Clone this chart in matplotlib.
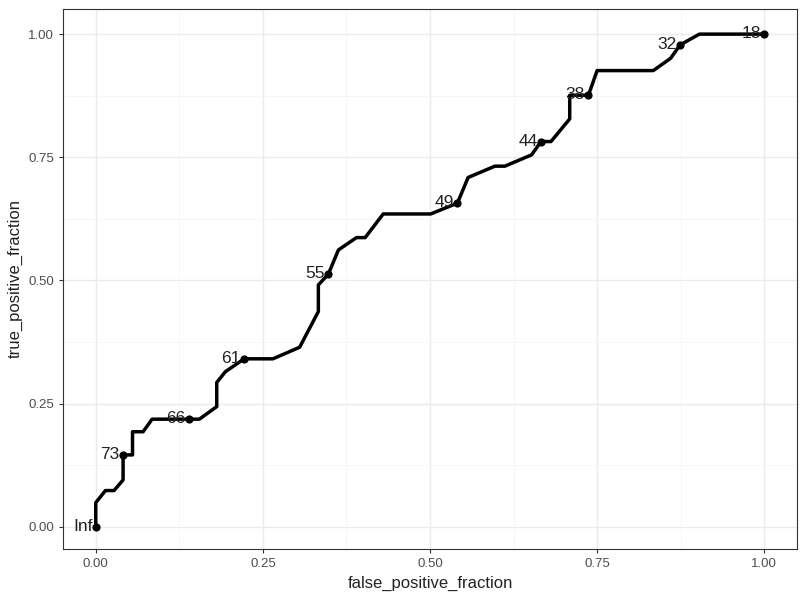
import matplotlib
matplotlib.use("Agg")
import matplotlib.pyplot as plt
plt.rcParams['font.family'] = ['Liberation Sans', 'DejaVu Sans']

fpf = [0, 0, 0.0145, 0.0274, 0.0409, 0.0409, 0.055, 0.055, 0.0708, 0.0843, 0.139, 0.155,
       0.181, 0.181, 0.194, 0.222, 0.265, 0.305, 0.333, 0.333, 0.348, 0.363, 0.390, 0.403,
       0.430, 0.501, 0.541, 0.557, 0.597, 0.612, 0.652, 0.666, 0.681, 0.709, 0.709, 0.737,
       0.750, 0.834, 0.860, 0.874, 0.903, 1.0]
tpf = [0, 0.049, 0.0736, 0.0736, 0.0953, 0.146, 0.146, 0.193, 0.193, 0.2185, 0.2185, 0.2185,
       0.244, 0.293, 0.315, 0.341, 0.341, 0.3645, 0.437, 0.491, 0.513, 0.562, 0.587, 0.587,
       0.635, 0.635, 0.657, 0.709, 0.732, 0.732, 0.755, 0.782, 0.782, 0.828, 0.876, 0.876,
       0.926, 0.926, 0.951, 0.978, 1.0, 1.0]
cut_fpf = [0, 0.0409, 0.139, 0.222, 0.348, 0.541, 0.666, 0.737, 0.874, 1.0]
cut_tpf = [0, 0.146, 0.2185, 0.341, 0.513, 0.657, 0.782, 0.876, 0.978, 1.0]
cut_labels = ["Inf", "73", "66", "61", "55", "49", "44", "38", "32", "18"]

fig = plt.figure(figsize=(8.06, 5.96), dpi=100)
ax = fig.add_axes([63/806, 47/596, 734/806, 540/596])
ax.set_facecolor("white")
ax.plot(fpf, tpf, color="black", lw=2.5, zorder=3)
ax.scatter(cut_fpf, cut_tpf, color="black", s=24, zorder=4)
for x, y, l in zip(cut_fpf, cut_tpf, cut_labels):
    ax.text(x - 0.005, y + 0.001, l, ha="right", va="center", fontsize=12.5, color="#222222", zorder=5)
ax.set_xlim(-0.049, 1.049)
ax.set_ylim(-0.045, 1.051)
ticks = [0, 0.25, 0.5, 0.75, 1.0]
ax.set_xticks(ticks)
ax.set_xticklabels(["0.00", "0.25", "0.50", "0.75", "1.00"])
ax.set_yticks(ticks)
ax.set_yticklabels(["0.00", "0.25", "0.50", "0.75", "1.00"])
ax.set_xticks([0.125, 0.375, 0.625, 0.875], minor=True)
ax.set_yticks([0.125, 0.375, 0.625, 0.875], minor=True)
ax.grid(True, which="major", color="#EBEBEB", lw=1.0, zorder=0)
ax.grid(True, which="minor", color="#F5F5F5", lw=0.6, zorder=0)
ax.tick_params(which="major", length=3, color="#333333", labelsize=9.5, labelcolor="#4D4D4D")
ax.tick_params(which="minor", length=0)
for s in ax.spines.values():
    s.set_color("#333333")
    s.set_linewidth(0.8)
ax.set_xlabel("false_positive_fraction", fontsize=12, color="#222222")
ax.set_ylabel("true_positive_fraction", fontsize=12, color="#222222")
fig.savefig("out.png", dpi=100)
